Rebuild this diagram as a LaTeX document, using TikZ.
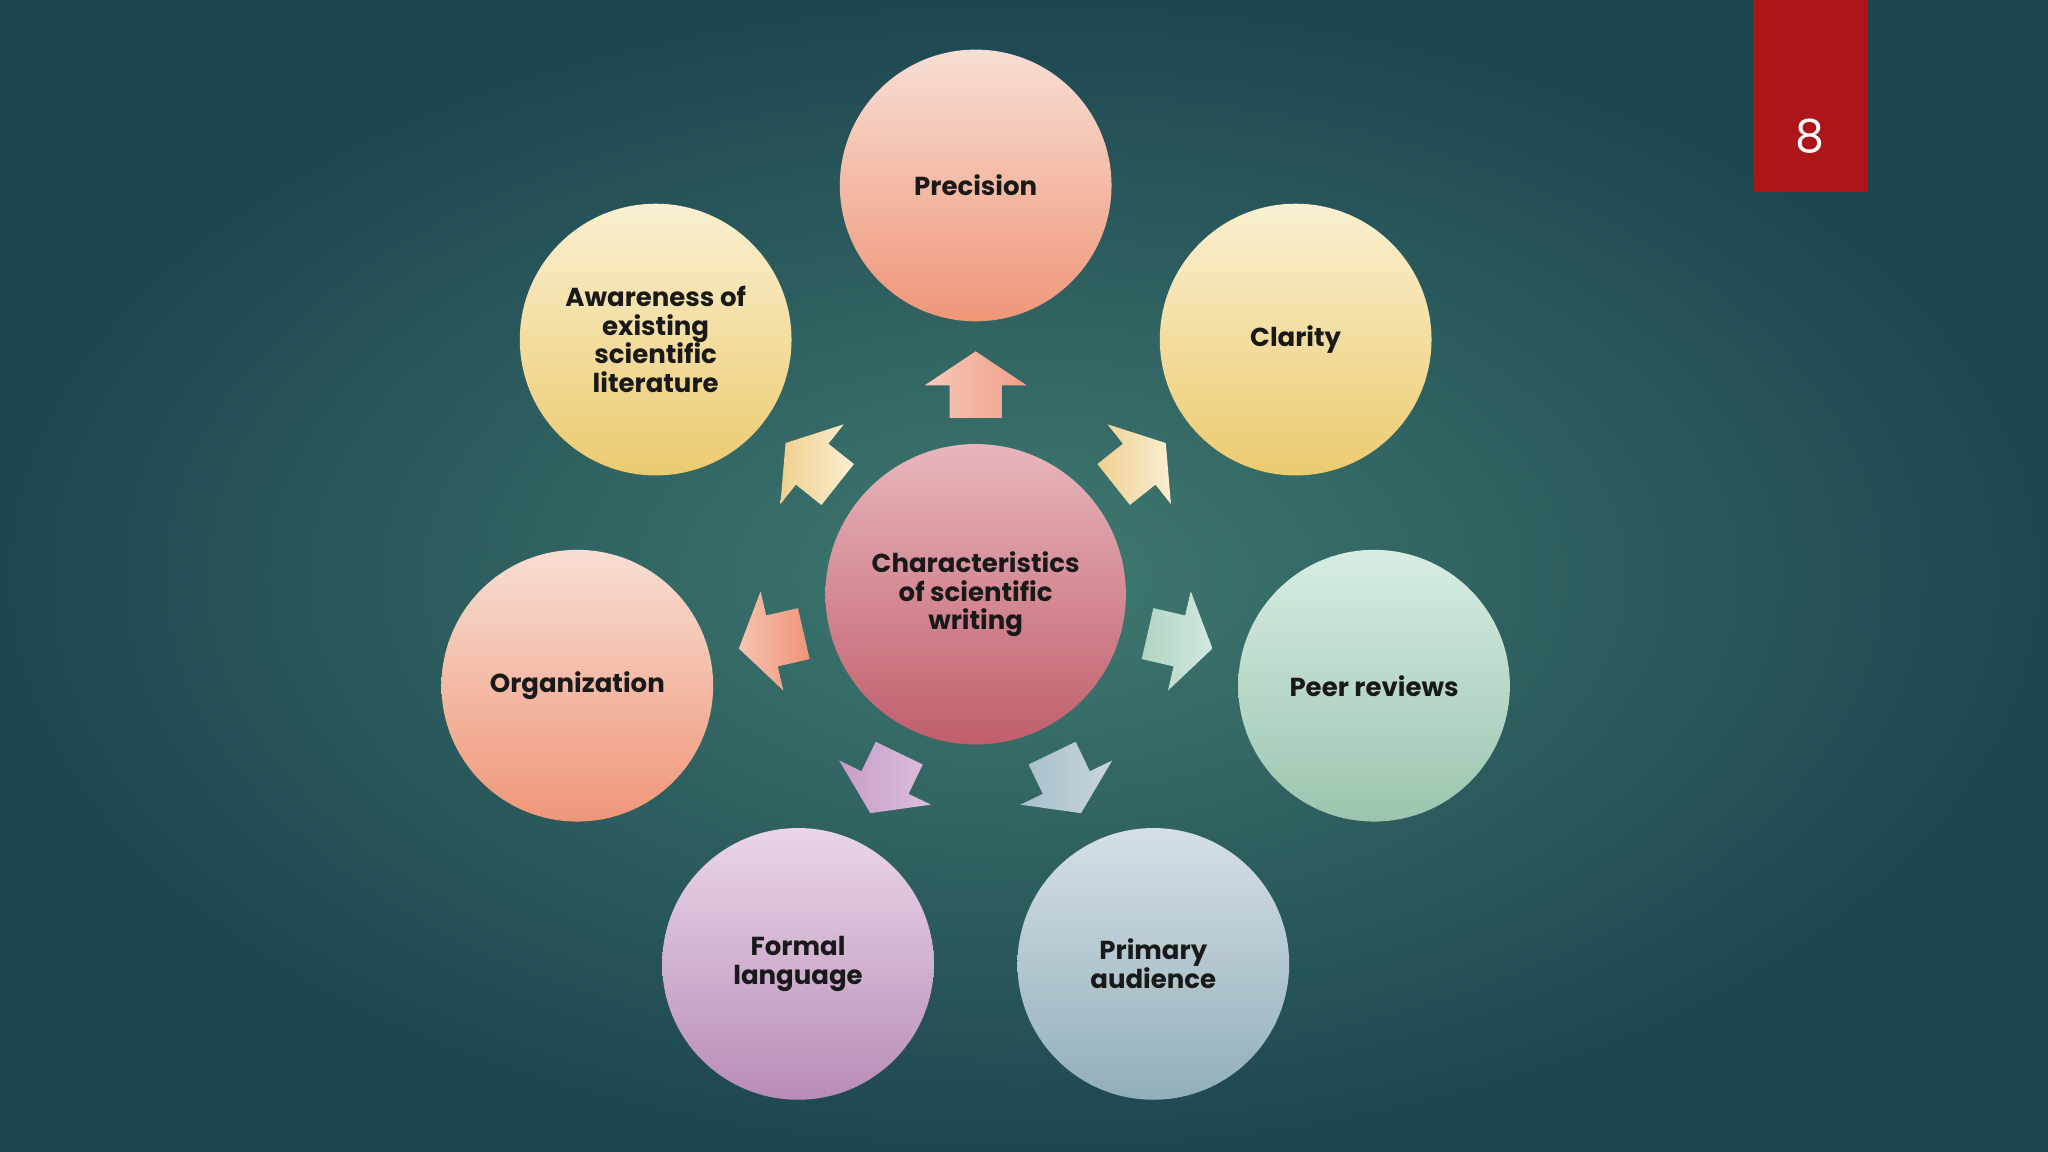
\documentclass[tikz,border=0pt]{standalone}
\usepackage{fontspec}
\setmainfont{Poppins}
\begin{document}
\begin{tikzpicture}[x=0.013061cm,y=0.013061cm,
 circ/.style={circle,minimum size=2.717cm,inner sep=0pt,align=center,font=\fontsize{7.4}{8.1}\selectfont\bfseries,text=black!90},
 arr/.style={draw=none}]
\definecolor{bgA}{HTML}{3F7A70}\definecolor{bgB}{HTML}{1E4650}
\shade[inner color=bgA,outer color=bgB] (0,0) rectangle (1568,882);
\useasboundingbox (0,0) rectangle (1568,882);
\fill[fill={rgb,255:red,174;green,21;blue,24}] (1342,735) rectangle (1430,882);
\node[text=white,font=\fontsize{13}{13}\selectfont] (num) at (1386,778) {8};
% circles
\node[circ,top color={rgb,255:red,248;green,222;blue,212},bottom color={rgb,255:red,240;green,150;blue,120}] (pre) at (747,740) {Precision};
\node[circ,top color={rgb,255:red,250;green,240;blue,210},bottom color={rgb,255:red,236;green,202;blue,110}] (cla) at (992,622) {Clarity};
\node[circ,top color={rgb,255:red,250;green,240;blue,210},bottom color={rgb,255:red,236;green,202;blue,110}] (awa) at (502,622) {Awareness of\\existing\\scientific\\literature};
\node[circ,top color={rgb,255:red,248;green,222;blue,212},bottom color={rgb,255:red,240;green,150;blue,120}] (org) at (442,357) {Organization};
\node[circ,top color={rgb,255:red,216;green,237;blue,226},bottom color={rgb,255:red,155;green,197;blue,175}] (pee) at (1052,357) {Peer reviews};
\node[circ,top color={rgb,255:red,234;green,214;blue,232},bottom color={rgb,255:red,184;green,140;blue,184}] (for) at (611,144) {Formal\\language};
\node[circ,top color={rgb,255:red,214;green,223;blue,230},bottom color={rgb,255:red,145;green,175;blue,186}] (pri) at (883,144) {Primary\\audience};
\node[circ,minimum size=3.004cm,top color={rgb,255:red,232;green,182;blue,188},bottom color={rgb,255:red,192;green,94;blue,108}] (cen) at (747,427) {Characteristics\\of scientific\\writing};
% arrows
\foreach \a/\ca/\cb in {90/F6C8B8/F0A08A, 38.5/F0D090/FAEFD2, 141.5/F0D090/FAEFD2, -12.9/B0D4C2/D2E9DE, 192.9/F6C3B0/EE9478, -64.3/A8BFCA/C8D6DE, 244.3/C79CC7/DCC0DC}{
 \definecolor{ca}{HTML}{\ca}\definecolor{cb}{HTML}{\cb}
 \begin{scope}[shift={(cen.center)},rotate=\a]
 \shade[left color=ca,right color=cb] (135,-20) -- (160,-20) -- (160,-39) -- (186,0) -- (160,39) -- (160,20) -- (135,20) -- cycle;
 \end{scope}}
\end{tikzpicture}
\end{document}
